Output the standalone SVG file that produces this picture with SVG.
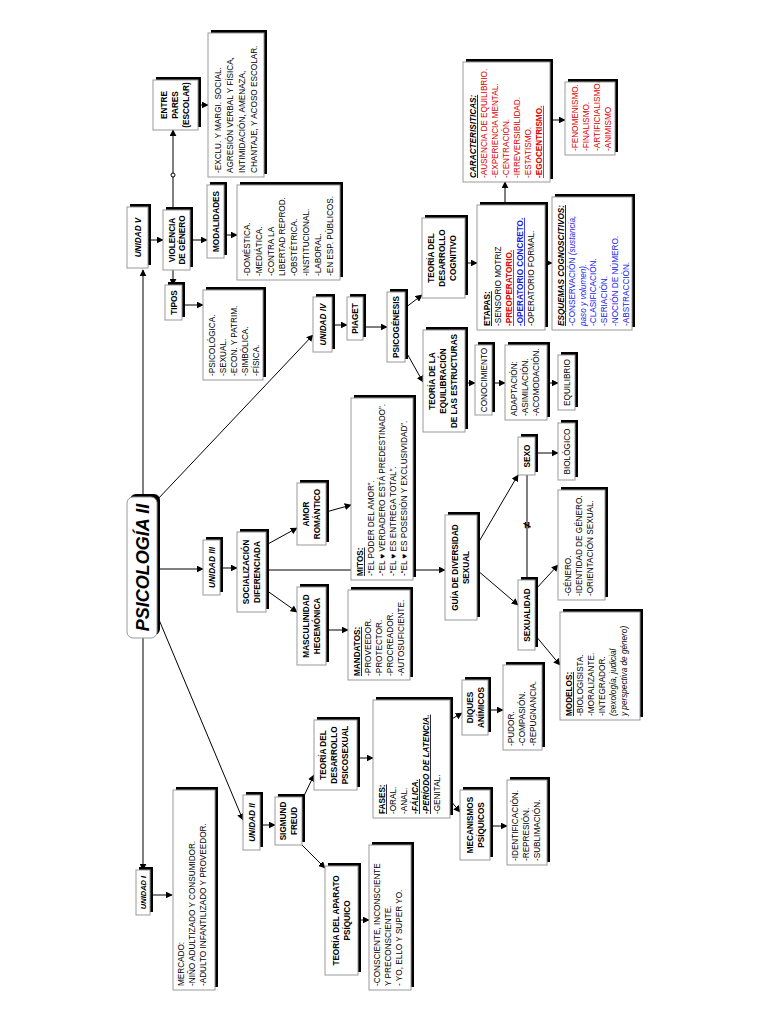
<svg xmlns="http://www.w3.org/2000/svg" width="768" height="1024" viewBox="0 0 768 1024">
<style>
text{font-family:"Liberation Sans",Arial,sans-serif;font-size:8.2px;fill:#000}
.t{font-weight:bold;text-anchor:middle}
.c{text-anchor:middle}
.i{font-style:italic}
.u{text-decoration:underline}
.bx{fill:#fff;stroke:#999;stroke-width:1}
.sh{fill:#000}
.ln{stroke:#000;stroke-width:1;fill:none;marker-end:url(#a)}
.nl{stroke:#000;stroke-width:1;fill:none}
.r{fill:#e00000}
.bl{fill:#1a1ae6}
</style>
<defs>
<marker id="a" viewBox="0 0 10 10" refX="9" refY="5" markerWidth="7" markerHeight="7" orient="auto" markerUnits="userSpaceOnUse"><path d="M0,0L10,5L0,10z" fill="#000"/></marker>
</defs>
<rect width="768" height="1024" fill="#fff"/>
<g transform="translate(0,1024) rotate(-90)">
<g id="connectors">
<path class="ln" d="M527,143H754"/>
<path class="ln" d="M386,143H154"/>
<path class="ln" d="M524,157L689,313"/>
<path class="ln" d="M455,157V203"/>
<path class="ln" d="M409,157L204,243"/>
<path class="ln" d="M129,150V172"/>
<path class="ln" d="M199,260V275"/>
<path class="ln" d="M224,302L249,314"/>
<path class="ln" d="M179,302L156,325"/>
<path class="ln" d="M104,358V369"/>
<path class="ln" d="M266,357V373"/>
<path class="ln" d="M304,450L311,462"/>
<path class="ln" d="M224,450L212,460"/>
<path class="ln" d="M314,488V503"/>
<path class="ln" d="M198,490V507"/>
<path class="ln" d="M456,220V237"/>
<path class="ln" d="M479,266L496,297"/>
<path class="ln" d="M434,266L412,297"/>
<path class="ln" d="M454,266V445"/>
<path class="ln" d="M512,326L519,351"/>
<path class="ln" d="M394,326V348"/>
<path class="ln" d="M479,477L549,518"/>
<path class="ln" d="M454,477L419,518"/>
<path class="nl" d="M549,527H444"/>
<path class="ln" d="M571,535V558"/>
<path class="ln" d="M434,535L459,558"/>
<path class="ln" d="M389,535L359,560"/>
<path class="ln" d="M699,332V347"/>
<path class="ln" d="M697,363V387"/>
<path class="ln" d="M716,405L729,422"/>
<path class="ln" d="M674,405L642,423"/>
<path class="ln" d="M641,465V475"/>
<path class="ln" d="M641,492V505"/>
<path class="ln" d="M641,547V558"/>
<path class="ln" d="M761,465V477"/>
<path class="ln" d="M819,505H842"/>
<path class="ln" d="M761,545V552"/>
<path class="ln" d="M904,550V565"/>
<path class="ln" d="M784,148V163"/>
<path class="ln" d="M754,173H739"/>
<path class="ln" d="M784,190V207"/>
<path class="ln" d="M789,224V237"/>
<path class="ln" d="M719,182V203"/>
<path class="ln" d="M814,173H894"/>
<circle cx="849" cy="173" r="2" fill="#fff" stroke="#000"/>
<path class="ln" d="M919,198V208"/>
</g>
<g id="n-psico"><rect class="sh" x="389" y="130" width="141" height="30" rx="6"/><rect class="bx" x="386" y="127" width="141" height="30" rx="6"/><text class="t i" x="456.5" y="149" style="font-size:18px">PSICOLOGÍA II</text></g>
<g id="n-u1"><rect class="sh" x="112" y="139" width="45" height="14"/><rect class="bx" x="109" y="136" width="45" height="14"/><text class="t i" x="131.5" y="146" style="font-size:7.5px">UNIDAD I</text></g>
<g id="n-mercado"><rect class="sh" x="37" y="176" width="200" height="42"/><rect class="bx" x="34" y="173" width="200" height="42"/><text x="38" y="184">MERCADO:<tspan x="38" dy="11">-NIÑO ADULTIZADO Y CONSUMIDOR.</tspan><tspan x="38" dy="11">-ADULTO INFANTILIZADO Y PROVEEDOR.</tspan></text></g>
<g id="n-u2"><rect class="sh" x="177" y="246" width="55" height="17"/><rect class="bx" x="174" y="243" width="55" height="17"/><text class="t i" x="201.5" y="254.5">UNIDAD II</text></g>
<g id="n-freud"><rect class="sh" x="182" y="278" width="48" height="27"/><rect class="bx" x="179" y="275" width="48" height="27"/><text class="t" x="203" y="286">SIGMUND<tspan x="203" dy="10.5">FREUD</tspan></text></g>
<g id="n-aparato"><rect class="sh" x="52" y="328" width="109" height="33"/><rect class="bx" x="49" y="325" width="109" height="33"/><text class="t" x="103.5" y="339">TEORÍA DEL APARATO<tspan x="103.5" dy="11">PSÍQUICO</tspan></text></g>
<g id="n-consc"><rect class="sh" x="37" y="372" width="145" height="42"/><rect class="bx" x="34" y="369" width="145" height="42"/><text x="38" y="380">-CONSCIENTE, INCONSCIENTE<tspan x="38" dy="11">Y PRECONSCIENTE.</tspan><tspan x="38" dy="11">- YO, ELLO Y SUPER YO.</tspan></text></g>
<g id="n-psicosex"><rect class="sh" x="237" y="317" width="70" height="43"/><rect class="bx" x="234" y="314" width="70" height="43"/><text class="t" x="269" y="326">TEORÍA DEL<tspan x="269" dy="11">DESARROLLO</tspan><tspan x="269" dy="11">PSICOSEXUAL</tspan></text></g>
<g id="n-fases"><rect class="sh" x="209" y="376" width="118" height="77"/><rect class="bx" x="206" y="373" width="118" height="77"/><text x="210" y="385"><tspan font-weight="bold" class="u">FASES:</tspan><tspan x="210" dy="11">-ORAL.</tspan><tspan x="210" dy="11">-ANAL.</tspan><tspan x="210" dy="11" font-weight="bold" font-style="italic" text-decoration="underline">-FÁLICA.</tspan><tspan x="210" dy="11" font-weight="bold" font-style="italic" text-decoration="underline">-PERÍODO DE LATENCIA.</tspan><tspan x="210" dy="11">-GENITAL.</tspan></text></g>
<g id="n-diques"><rect class="sh" x="292" y="465" width="55" height="26"/><rect class="bx" x="289" y="462" width="55" height="26"/><text class="t" x="316.5" y="473">DIQUES<tspan x="316.5" dy="10.5">ANÍMICOS</tspan></text></g>
<g id="n-pudor"><rect class="sh" x="277" y="506" width="85" height="39"/><rect class="bx" x="274" y="503" width="85" height="39"/><text x="278" y="514">-PUDOR.<tspan x="278" dy="11">-COMPASIÓN.</tspan><tspan x="278" dy="11">-REPUGNANCIA.</tspan></text></g>
<g id="n-mecan"><rect class="sh" x="167" y="463" width="70" height="30"/><rect class="bx" x="164" y="460" width="70" height="30"/><text class="t" x="199" y="472.5">MECANISMOS<tspan x="199" dy="11">PSÍQUICOS</tspan></text></g>
<g id="n-ident"><rect class="sh" x="162" y="510" width="85" height="40"/><rect class="bx" x="159" y="507" width="85" height="40"/><text x="163" y="518">-IDENTIFICACIÓN.<tspan x="163" dy="11">-REPRESIÓN.</tspan><tspan x="163" dy="11">-SUBLIMACIÓN.</tspan></text></g>
<g id="n-u3"><rect class="sh" x="432" y="206" width="55" height="17"/><rect class="bx" x="429" y="203" width="55" height="17"/><text class="t i" x="456.5" y="214.5">UNIDAD III</text></g>
<g id="n-social"><rect class="sh" x="415" y="240" width="80" height="29"/><rect class="bx" x="412" y="237" width="80" height="29"/><text class="t" x="452" y="249">SOCIALIZACIÓN<tspan x="452" dy="10.5">DIFERENCIADA</tspan></text></g>
<g id="n-amor"><rect class="sh" x="482" y="300" width="62" height="29"/><rect class="bx" x="479" y="297" width="62" height="29"/><text class="t" x="510" y="309">AMOR<tspan x="510" dy="10.5">ROMÁNTICO</tspan></text></g>
<g id="n-masc"><rect class="sh" x="362" y="300" width="78" height="29"/><rect class="bx" x="359" y="297" width="78" height="29"/><text class="t" x="398" y="309">MASCULINIDAD<tspan x="398" dy="10.5">HEGEMÓNICA</tspan></text></g>
<g id="n-mitos"><rect class="sh" x="447" y="354" width="182" height="62"/><rect class="bx" x="444" y="351" width="182" height="62"/><text x="448" y="363"><tspan font-weight="bold" class="u">MITOS:</tspan><tspan x="448" dy="11">-“EL PODER DEL AMOR”.</tspan><tspan x="448" dy="11">-“EL ♥ VERDADERO ESTÁ PREDESTINADO”.</tspan><tspan x="448" dy="11">-“EL ♥ ES ENTREGA TOTAL”.</tspan><tspan x="448" dy="11">-“EL ♥ ES POSESIÓN Y EXCLUSIVIDAD”.</tspan></text></g>
<g id="n-mandatos"><rect class="sh" x="347" y="351" width="90" height="62"/><rect class="bx" x="344" y="348" width="90" height="62"/><text x="348" y="360"><tspan font-weight="bold" class="u">MANDATOS:</tspan><tspan x="348" dy="11">-PROVEEDOR.</tspan><tspan x="348" dy="11">-PROTECTOR.</tspan><tspan x="348" dy="11">-PROCREADOR.</tspan><tspan x="348" dy="11">-AUTOSUFICIENTE.</tspan></text></g>
<g id="n-guia"><rect class="sh" x="407" y="448" width="105" height="32"/><rect class="bx" x="404" y="445" width="105" height="32"/><text class="t" x="456.5" y="458">GUÍA DE DIVERSIDAD<tspan x="456.5" dy="11">SEXUAL</tspan></text></g>
<g id="n-sexo"><rect class="sh" x="552" y="521" width="38" height="17"/><rect class="bx" x="549" y="518" width="38" height="17"/><text class="t" x="568" y="529.5">SEXO</text></g>
<text x="499" y="531" class="t" style="font-size:12px">≠</text>
<g id="n-bio"><rect class="sh" x="547" y="561" width="57" height="17"/><rect class="bx" x="544" y="558" width="57" height="17"/><text class="c" x="572.5" y="569.5">BIOLÓGICO</text></g>
<g id="n-sexual"><rect class="sh" x="377" y="521" width="70" height="17"/><rect class="bx" x="374" y="518" width="70" height="17"/><text class="t" x="409" y="529.5">SEXUALIDAD</text></g>
<g id="n-genero"><rect class="sh" x="427" y="561" width="110" height="47"/><rect class="bx" x="424" y="558" width="110" height="47"/><text x="428" y="571">-GÉNERO.<tspan x="428" dy="11">-IDENTIDAD DE GÉNERO.</tspan><tspan x="428" dy="11">-ORIENTACIÓN SEXUAL.</tspan></text></g>
<g id="n-modelos"><rect class="sh" x="307" y="563" width="108" height="80"/><rect class="bx" x="304" y="560" width="108" height="80"/><text x="308" y="572"><tspan font-weight="bold" class="u">MODELOS:</tspan><tspan x="308" dy="11">-BIOLOGISISTA.</tspan><tspan x="308" dy="11">-MORALIZANTE.</tspan><tspan x="308" dy="11">-INTEGRADOR.</tspan><tspan x="308" dy="11" font-style="italic">(sexología, judicial</tspan><tspan x="308" dy="11" font-style="italic">y perspectiva de género)</tspan></text></g>
<g id="n-u4"><rect class="sh" x="675" y="316" width="55" height="19"/><rect class="bx" x="672" y="313" width="55" height="19"/><text class="t i" x="699.5" y="325.5">UNIDAD IV</text></g>
<g id="n-piaget"><rect class="sh" x="687" y="350" width="43" height="16"/><rect class="bx" x="684" y="347" width="43" height="16"/><text class="t" x="705.5" y="358">PIAGET</text></g>
<g id="n-psicog"><rect class="sh" x="665" y="390" width="70" height="18"/><rect class="bx" x="662" y="387" width="70" height="18"/><text class="t" x="697" y="399">PSICOGÉNESIS</text></g>
<g id="n-cogn"><rect class="sh" x="729" y="425" width="80" height="43"/><rect class="bx" x="726" y="422" width="80" height="43"/><text class="t" x="766" y="434">TEORÍA DEL<tspan x="766" dy="11">DESARROLLO</tspan><tspan x="766" dy="11">COGNITIVO</tspan></text></g>
<g id="n-equil"><rect class="sh" x="595" y="426" width="102" height="42"/><rect class="bx" x="592" y="423" width="102" height="42"/><text class="t" x="643" y="435">TEORÍA DE LA<tspan x="643" dy="11">EQUILIBRACIÓN</tspan><tspan x="643" dy="11">DE LAS ESTRUCTURAS</tspan></text></g>
<g id="n-conoc"><rect class="sh" x="612" y="478" width="70" height="17"/><rect class="bx" x="609" y="475" width="70" height="17"/><text class="c" x="644" y="486.5">CONOCIMIENTO</text></g>
<g id="n-adapt"><rect class="sh" x="607" y="508" width="75" height="42"/><rect class="bx" x="604" y="505" width="75" height="42"/><text x="608" y="517">ADAPTACIÓN:<tspan x="608" dy="11">-ASIMILACIÓN.</tspan><tspan x="608" dy="11">-ACOMODACIÓN.</tspan></text></g>
<g id="n-equi"><rect class="sh" x="617" y="561" width="55" height="17"/><rect class="bx" x="614" y="558" width="55" height="17"/><text class="c" x="641.5" y="569.5">EQUILIBRIO</text></g>
<g id="n-etapas"><rect class="sh" x="697" y="480" width="125" height="68"/><rect class="bx" x="694" y="477" width="125" height="68"/><text x="698" y="490"><tspan font-weight="bold" class="u">ETAPAS:</tspan><tspan x="698" dy="11">-SENSORIO MOTRIZ</tspan><tspan x="698" dy="11" class="r u" font-weight="bold">-PREOPERATORIO.</tspan><tspan x="698" dy="11" class="bl u" font-weight="bold">-OPERATORIO CONCRETO.</tspan><tspan x="698" dy="11">-OPERATORIO FORMAL.</tspan></text></g>
<g id="n-esquemas"><rect class="sh" x="697" y="555" width="133" height="80"/><rect class="bx" x="694" y="552" width="133" height="80"/><text x="698" y="564"><tspan font-weight="bold" font-style="italic" class="u">ESQUEMAS COGNOSCITIVOS:</tspan><tspan x="698" dy="10.8" class="bl">-CONSERVACIÓN <tspan font-style="italic">(sustancia,</tspan></tspan><tspan x="698" dy="10.8" class="bl" font-style="italic">paso y volumen).</tspan><tspan x="698" dy="10.8" class="bl">-CLASIFICACIÓN.</tspan><tspan x="698" dy="10.8" class="bl">-SERIACIÓN.</tspan><tspan x="698" dy="10.8" class="bl">-NOCIÓN DE NÚMERO.</tspan><tspan x="698" dy="10.8" class="bl">-ABSTRACCIÓN.</tspan></text></g>
<g id="n-caract"><rect class="sh" x="845" y="466" width="120" height="87"/><rect class="bx" x="842" y="463" width="120" height="87"/><text x="846" y="476"><tspan font-weight="bold" font-style="italic" class="u">CARACTERISITICAS:</tspan><tspan x="846" dy="11" class="r">-AUSENCIA DE EQUILIBRIO.</tspan><tspan x="846" dy="11" class="r">-EXPERIENCIA MENTAL.</tspan><tspan x="846" dy="11" class="r">-CENTRACIÓN.</tspan><tspan x="846" dy="11" class="r">-IRREVERSIBILIDAD.</tspan><tspan x="846" dy="11" class="r">-ESTATISMO.</tspan><tspan x="846" dy="11" class="r u" font-weight="bold">-EGOCENTRISMO.</tspan></text></g>
<g id="n-fenom"><rect class="sh" x="872" y="568" width="73" height="50"/><rect class="bx" x="869" y="565" width="73" height="50"/><text x="873" y="578" class="r">-FENOMENISMO.<tspan x="873" dy="11">-FINALISMO.</tspan><tspan x="873" dy="11">-ARTIFICIALISMO.</tspan><tspan x="873" dy="11">-ANIMISMO</tspan></text></g>
<g id="n-u5"><rect class="sh" x="759" y="130" width="61" height="21"/><rect class="bx" x="756" y="127" width="61" height="21"/><text class="t i" x="786.5" y="140.5">UNIDAD V</text></g>
<g id="n-viol"><rect class="sh" x="757" y="166" width="60" height="27"/><rect class="bx" x="754" y="163" width="60" height="27"/><text class="t" x="784" y="174.5">VIOLENCIA<tspan x="784" dy="10.5">DE GÉNERO</tspan></text></g>
<g id="n-tipos"><rect class="sh" x="707" y="168" width="35" height="17"/><rect class="bx" x="704" y="165" width="35" height="17"/><text class="t" x="721.5" y="176.5">TIPOS</text></g>
<g id="n-psicol"><rect class="sh" x="647" y="206" width="90" height="60"/><rect class="bx" x="644" y="203" width="90" height="60"/><text x="648" y="215">-PSICOLÓGICA.<tspan x="648" dy="11">-SEXUAL.</tspan><tspan x="648" dy="11">-ECON. Y PATRIM.</tspan><tspan x="648" dy="11">-SIMBÓLICA.</tspan><tspan x="648" dy="11">-FÍSICA.</tspan></text></g>
<g id="n-modal"><rect class="sh" x="769" y="210" width="73" height="17"/><rect class="bx" x="766" y="207" width="73" height="17"/><text class="t" x="802.5" y="218.5">MODALIDADES</text></g>
<g id="n-domest"><rect class="sh" x="747" y="240" width="95" height="103"/><rect class="bx" x="744" y="237" width="95" height="103"/><text x="748" y="250">-DOMÉSTICA.<tspan x="748" dy="11.8">-MEDIÁTICA.</tspan><tspan x="748" dy="11.8">-CONTRA LA</tspan><tspan x="748" dy="11.8">LIBERTAD REPROD.</tspan><tspan x="748" dy="11.8">-OBSTÉTRICA.</tspan><tspan x="748" dy="11.8">-INSTITUCIONAL.</tspan><tspan x="748" dy="11.8">-LABORAL.</tspan><tspan x="748" dy="11.8">-EN ESP. PÚBLICOS.</tspan></text></g>
<g id="n-pares"><rect class="sh" x="897" y="156" width="50" height="45"/><rect class="bx" x="894" y="153" width="50" height="45"/><text class="t" x="919" y="167">ENTRE<tspan x="919" dy="11">PARES</tspan><tspan x="919" dy="11">(ESCOLAR)</tspan></text></g>
<g id="n-exclu"><rect class="sh" x="850" y="211" width="144" height="56"/><rect class="bx" x="847" y="208" width="144" height="56"/><text x="851" y="221">-EXCLU. Y MARGI. SOCIAL.<tspan x="851" dy="12">AGRESIÓN VERBAL Y FÍSICA,</tspan><tspan x="851" dy="12">INTIMIDACIÓN, AMENAZA,</tspan><tspan x="851" dy="12">CHANTAJE, Y ACOSO ESCOLAR.</tspan></text></g>
</g>
</svg>
